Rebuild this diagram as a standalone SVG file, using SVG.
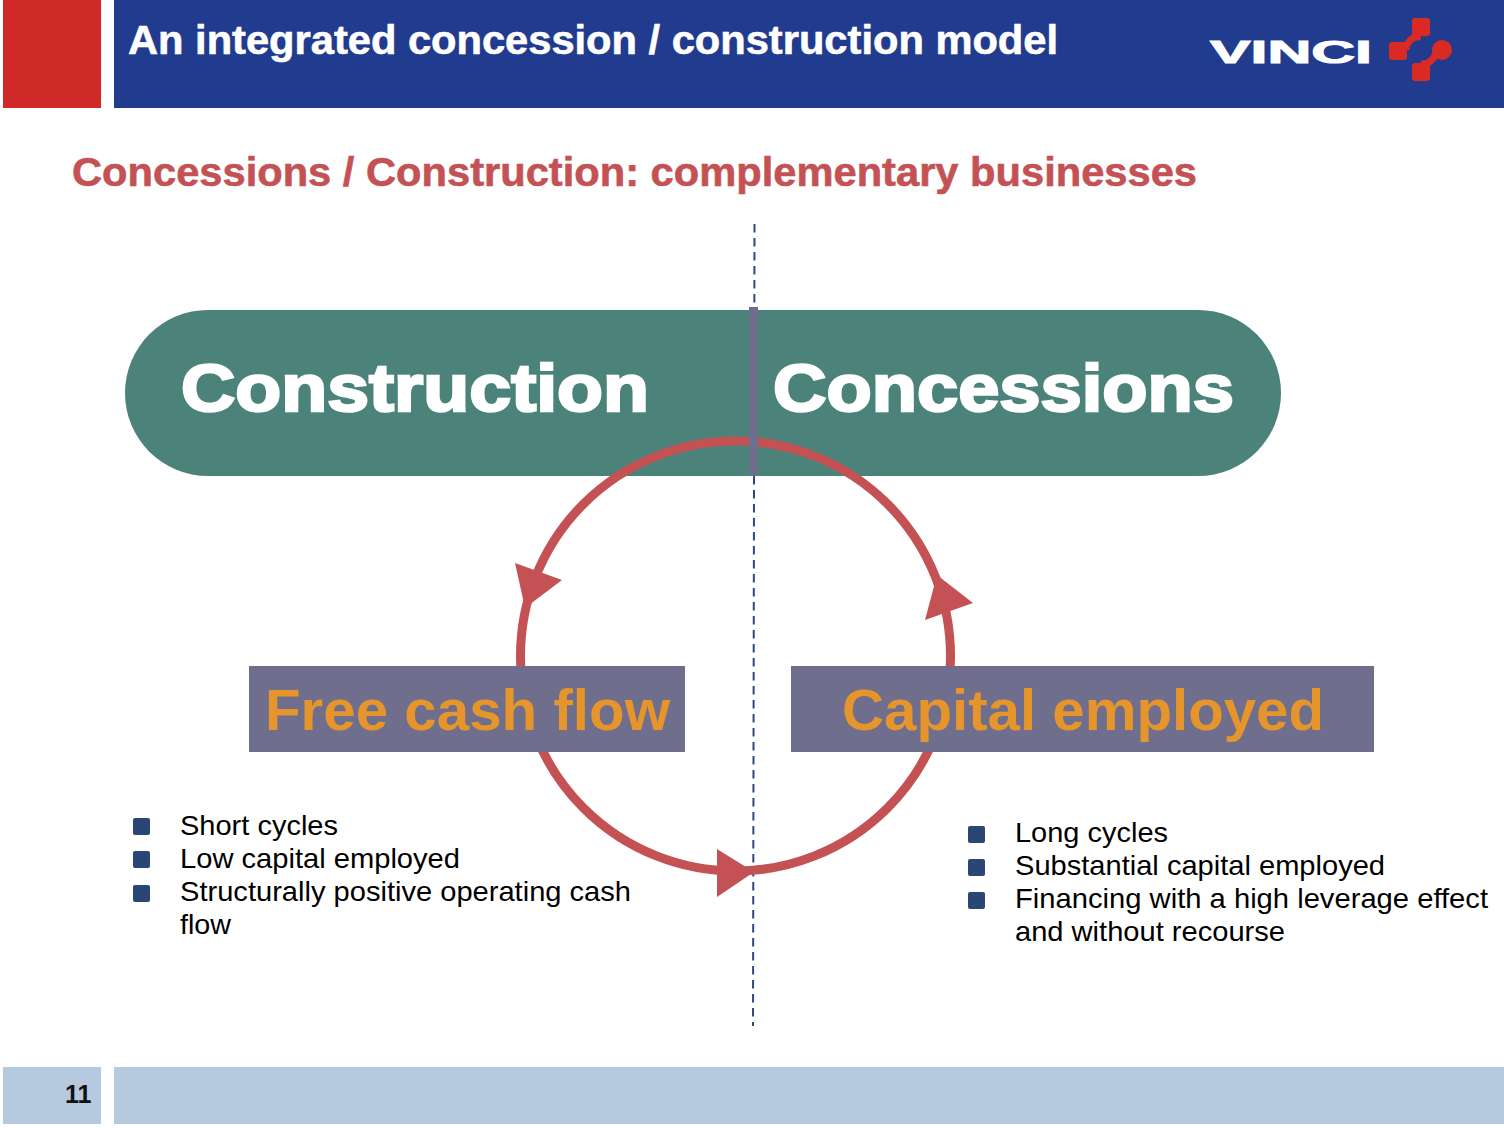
<svg xmlns="http://www.w3.org/2000/svg" width="1504" height="1128" viewBox="0 0 1504 1128">
<style>
text{font-family:"Liberation Sans",Arial,sans-serif}
.b{font-weight:bold}
.pill{font-size:67px;font-weight:bold;fill:#fff;stroke:#fff;stroke-width:2.500px}
.box{fill:#6f6e8d}
.boxt{font-size:57px;font-weight:bold;fill:#e5952b}
.li{font-size:28px;fill:#000}
.bul{fill:#2a4674}
.red{fill:#c45255}
.t{stroke-width:.6px}
</style>
<rect width="1504" height="1128" fill="#fff"/>
<g id="header">
<rect x="3" y="0" width="98" height="108" fill="#cf2a27"/>
<rect x="114" y="0" width="1390" height="108" fill="#213b8f"/>
<text class="b t" x="128" y="54" font-size="40" fill="#fff" stroke="#fff" textLength="930" lengthAdjust="spacingAndGlyphs">An integrated concession / construction model</text>
</g>
<g id="logo">
<text class="b" x="1210" y="63" font-size="31" fill="#fff" stroke="#fff" stroke-width="1" textLength="162" lengthAdjust="spacingAndGlyphs">VINCI</text>
<g fill="#d92b24">
<rect x="1412" y="18" width="18" height="18" rx="3"/>
<rect x="1389" y="42" width="18" height="18" rx="3"/>
<rect x="1412" y="63" width="18" height="18" rx="3"/>
<circle cx="1442" cy="50" r="10"/>
</g>
<path d="M1421 37A13 13 0 0 0 1406 50M1436 50A14 14 0 0 1 1421 64" fill="none" stroke="#d92b24" stroke-width="7"/>
</g>
<text id="subtitle" class="b t" x="72" y="186" font-size="40" fill="#c45255" stroke="#c45255" textLength="1125" lengthAdjust="spacingAndGlyphs">Concessions / Construction: complementary businesses</text>
<g id="construction-concessions">
<rect x="125" y="310" width="1156" height="166" rx="83" fill="#4b8279"/>
<text class="pill" x="181" y="411" textLength="468" lengthAdjust="spacingAndGlyphs">Construction</text>
<text class="pill" x="773" y="411" textLength="461" lengthAdjust="spacingAndGlyphs">Concessions</text>
</g>
<g id="connectors">
<line x1="754.500" y1="224" x2="753" y2="1026" stroke="#2a4a80" stroke-width="2" stroke-dasharray="8.500 5.500"/>
<circle cx="735.500" cy="656" r="215" fill="none" stroke="#c45255" stroke-width="9"/>
<polygon class="red" points="515,563 562,580 525,608"/>
<polygon class="red" points="937,575 973,603 925,620"/>
<polygon class="red" points="717,849 754,872 717,897"/>
</g>
<rect id="divider" x="749" y="307" width="9" height="168" fill="#6f6e8d"/>
<g id="free-cash-flow">
<rect class="box" x="249" y="666" width="436" height="86"/>
<text class="boxt" x="265" y="730" textLength="405" lengthAdjust="spacingAndGlyphs">Free cash flow</text>
</g>
<g id="capital-employed">
<rect class="box" x="791" y="666" width="583" height="86"/>
<text class="boxt" x="842" y="730" textLength="482" lengthAdjust="spacingAndGlyphs">Capital employed</text>
</g>
<g id="left-list">
<rect class="bul" x="133" y="818" width="17" height="17" rx="2"/>
<rect class="bul" x="133" y="851" width="17" height="17" rx="2"/>
<rect class="bul" x="133" y="885" width="17" height="17" rx="2"/>
<text class="li" x="180" y="835" textLength="158" lengthAdjust="spacingAndGlyphs">Short cycles</text>
<text class="li" x="180" y="868" textLength="280" lengthAdjust="spacingAndGlyphs">Low capital employed</text>
<text class="li" x="180" y="901" textLength="451" lengthAdjust="spacingAndGlyphs">Structurally positive operating cash</text>
<text class="li" x="180" y="934" textLength="51" lengthAdjust="spacingAndGlyphs">flow</text>
</g>
<g id="right-list">
<rect class="bul" x="968" y="826" width="17" height="17" rx="2"/>
<rect class="bul" x="968" y="859" width="17" height="17" rx="2"/>
<rect class="bul" x="968" y="892" width="17" height="17" rx="2"/>
<text class="li" x="1015" y="842" textLength="153" lengthAdjust="spacingAndGlyphs">Long cycles</text>
<text class="li" x="1015" y="875" textLength="370" lengthAdjust="spacingAndGlyphs">Substantial capital employed</text>
<text class="li" x="1015" y="908" textLength="473" lengthAdjust="spacingAndGlyphs">Financing with a high leverage effect</text>
<text class="li" x="1015" y="941" textLength="270" lengthAdjust="spacingAndGlyphs">and without recourse</text>
</g>
<g id="footer">
<rect x="3" y="1067" width="98" height="57" fill="#b5cadf"/>
<rect x="114" y="1067" width="1390" height="57" fill="#b5cadf"/>
<text class="b" x="65" y="1103" font-size="25" fill="#111">11</text>
</g>
</svg>
